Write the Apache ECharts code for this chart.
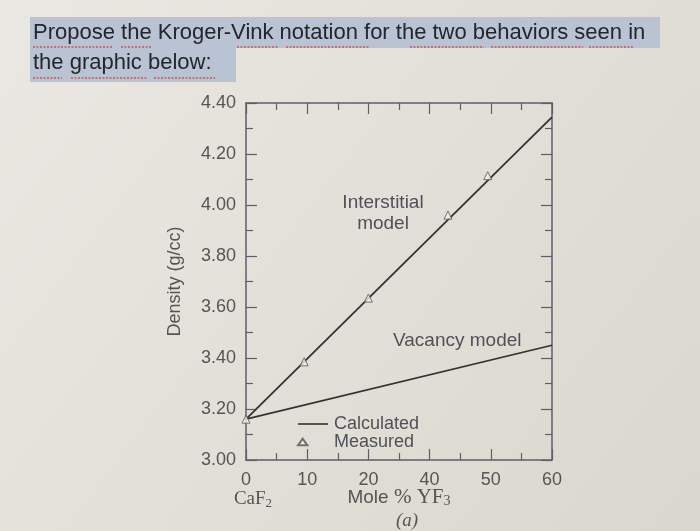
<!DOCTYPE html>
<html>
<head>
<meta charset="utf-8">
<script src="https://cdn.jsdelivr.net/npm/echarts@6/dist/echarts.min.js"></script>
<style>
  html, body { margin: 0; padding: 0; background: #e6e4dd; }
  #chart { width: 700px; height: 531px; }
</style>
</head>
<body>
<div id="chart"></div>
<script>
// tick labels as printed on the figure
const xTickLabels = ['0', '10', '20', '40', '50', '60'];
const yTickLabels = ['3.00', '3.20', '3.40', '3.60', '3.80', '4.00', '4.20', '4.40'];

// calculated lines (x in axis units, density in g/cc)
const interstitialX = [0, 50];
const interstitialY = [3.16, 4.345];
const vacancyX = [0, 50];
const vacancyY = [3.16, 3.45];

// measured points
const measuredX = [0, 9.5, 20, 33, 39.5];
const measuredY = [3.16, 3.385, 3.635, 3.96, 4.115];

const zip = (xs, ys) => xs.map((x, i) => [x, ys[i]]);

const sans = 'Liberation Sans';
const serif = 'Liberation Serif';
const frame = '#596068';
const ink = '#333';
const grey = '#4e5258';

const chart = echarts.init(document.getElementById('chart'));

// wavy spell-check underlines under the title words [x0, x1, y]
const squiggles = [
  [33, 113, 47], [121, 152, 47], [237, 279, 47], [286, 370, 47],
  [410, 484, 47], [491, 583, 47], [589, 634, 47],
  [33, 62, 78], [71, 147, 78], [154, 215, 78]
];

const titleGraphics = [
  {
    type: 'rect', z: -10, silent: true,
    shape: { x: 0, y: 0, width: 700, height: 531 },
    style: {
      fill: new echarts.graphic.LinearGradient(0, 0, 1, 1, [
        { offset: 0, color: '#eae8e2' },
        { offset: 1, color: '#dad7ce' }
      ])
    }
  },
  { type: 'rect', shape: { x: 30, y: 17, width: 630, height: 31 }, style: { fill: '#b9c3d3' } },
  { type: 'rect', shape: { x: 30, y: 47, width: 206, height: 35 }, style: { fill: '#b9c3d3' } },
  {
    type: 'text', left: 33, top: 22,
    style: { text: 'Propose the Kroger-Vink notation for the two behaviors seen in', font: '22px ' + sans, fill: '#22262d' }
  },
  {
    type: 'text', left: 33, top: 52,
    style: { text: 'the graphic below:', font: '22px ' + sans, fill: '#22262d' }
  }
].concat(squiggles.map(s => ({
  type: 'line', silent: true,
  shape: { x1: s[0], y1: s[2], x2: s[1], y2: s[2] },
  style: { stroke: '#c25b5b', lineWidth: 1.5, lineDash: [2, 1.5] }
})));

const annotations = [
  {
    type: 'text', x: 383, y: 192,
    style: { text: 'Interstitial\nmodel', font: '19px ' + sans, fill: grey, align: 'center', lineHeight: 21 }
  },
  {
    type: 'text', x: 393, y: 331,
    style: { text: 'Vacancy model', font: '19px ' + sans, fill: grey }
  },
  {
    type: 'text', x: 253, y: 489,
    style: {
      text: '{a|CaF}{b|2}', align: 'center',
      rich: { a: { font: '19px ' + serif, fill: '#555' }, b: { font: '13px ' + serif, fill: '#555', padding: [8, 0, 0, 0] } }
    }
  },
  {
    type: 'text', x: 407, y: 511,
    style: { text: '(a)', font: 'italic 19px ' + serif, fill: '#555', align: 'center' }
  }
];

const axisCommon = {
  axisLine: { show: true, onZero: false, lineStyle: { color: frame, width: 1.5 } },
  axisTick: { show: true, inside: true, length: 11, lineStyle: { color: frame, width: 1.2 } },
  minorTick: { show: true, splitNumber: 2, length: 7, lineStyle: { color: frame, width: 1.2 } },
  splitLine: { show: false },
  minorSplitLine: { show: false }
};

const option = {
  backgroundColor: 'transparent',
  animation: false,
  graphic: titleGraphics.concat(annotations),
  grid: { left: 246, right: 148, top: 103, bottom: 71 },
  legend: {
    orient: 'vertical',
    left: 292, top: 410,
    itemGap: 0,
    itemWidth: 30, itemHeight: 8,
    textStyle: { fontFamily: sans, fontSize: 18, color: grey, padding: [0, 0, 0, 1] },
    data: [
      { name: 'Calculated', icon: 'path://M0,6 L30,6 L30,7.6 L0,7.6 Z' },
      { name: 'Measured', icon: 'path://M11,3 L14.5,8 L7.5,8 Z M30,8 L30,8.01' }
    ]
  },
  xAxis: [
    Object.assign({}, axisCommon, {
      type: 'value', position: 'bottom', min: 0, max: 50, interval: 10,
      name: '{s|Mole }{r|% YF}{sub|3}',
      nameLocation: 'middle', nameGap: 27, nameMoveOverlap: false,
      nameTextStyle: {
        verticalAlign: 'top',
        rich: {
          s: { fontFamily: sans, fontSize: 19, color: '#555' },
          r: { fontFamily: serif, fontSize: 21, color: '#555' },
          sub: { fontFamily: serif, fontSize: 14, color: '#555', padding: [7, 0, 0, 0] }
        }
      },
      axisLabel: {
        margin: 11, fontFamily: sans, fontSize: 18, color: '#555',
        formatter: v => xTickLabels[Math.round(v / 10)]
      }
    }),
    Object.assign({}, axisCommon, {
      type: 'value', position: 'top', min: 0, max: 50, interval: 10,
      axisLabel: { show: false }
    })
  ],
  yAxis: [
    Object.assign({}, axisCommon, {
      type: 'value', position: 'left', min: 3.0, max: 4.4, interval: 0.2,
      name: 'Density (g/cc)',
      nameLocation: 'middle', nameGap: 62, nameRotate: 90,
      nameTextStyle: { fontFamily: sans, fontSize: 18, color: '#555' },
      axisLabel: {
        margin: 10, fontFamily: sans, fontSize: 18, color: '#555',
        formatter: v => yTickLabels[Math.round((v - 3.0) / 0.2)]
      }
    }),
    Object.assign({}, axisCommon, {
      type: 'value', position: 'right', min: 3.0, max: 4.4, interval: 0.2,
      axisLabel: { show: false }
    })
  ],
  series: [
    {
      name: 'Calculated', type: 'line', data: zip(interstitialX, interstitialY),
      showSymbol: false, color: ink, lineStyle: { color: ink, width: 1.8 }, z: 3
    },
    {
      name: 'Calculated', type: 'line', data: zip(vacancyX, vacancyY),
      showSymbol: false, color: ink, lineStyle: { color: ink, width: 1.8 }, z: 3
    },
    {
      name: 'Measured', type: 'scatter', data: zip(measuredX, measuredY),
      symbol: 'triangle', symbolSize: 8,
      itemStyle: { color: '#f0efea', borderColor: '#555', borderWidth: 1 }, z: 4
    }
  ]
};

chart.setOption(option);
</script>
</body>
</html>
